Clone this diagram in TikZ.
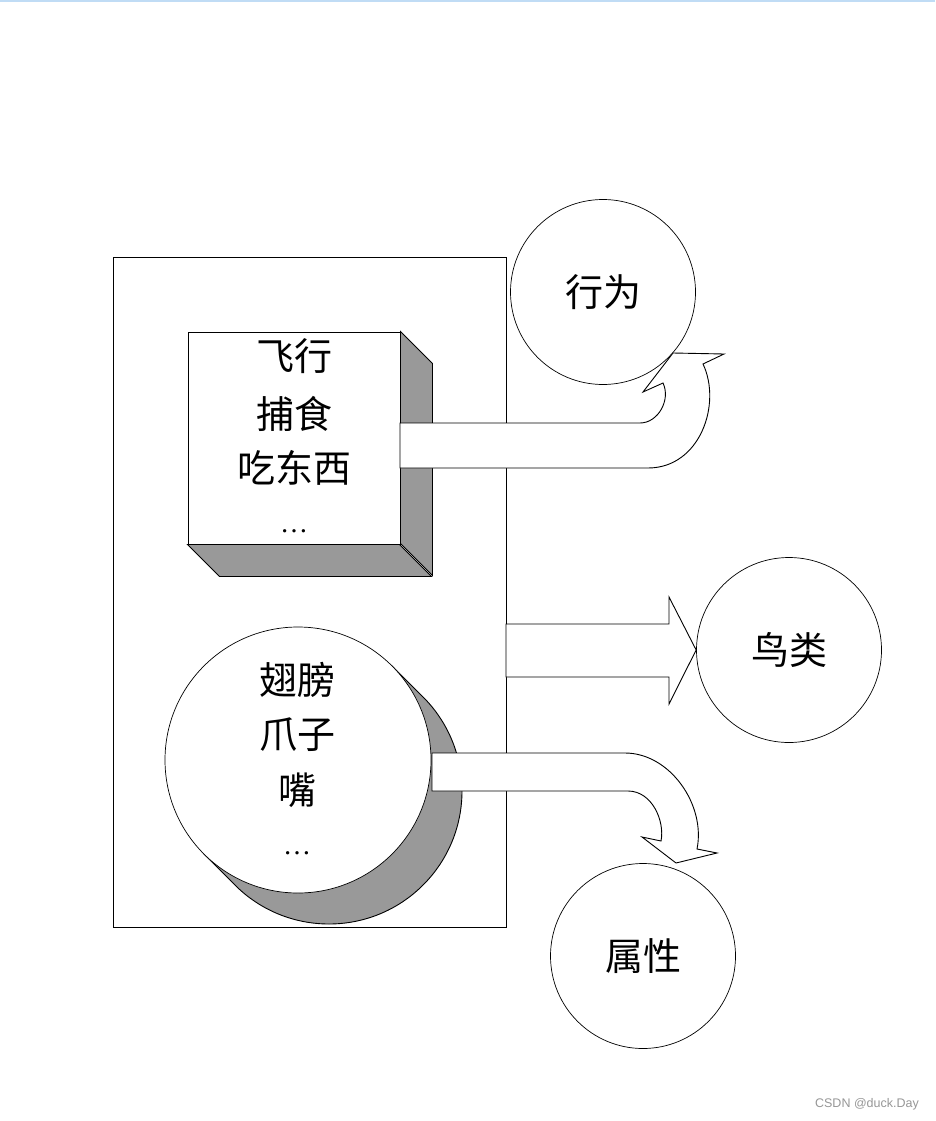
\documentclass[tikz,border=0pt]{standalone}
\usepackage{fontspec}
\newfontfamily\cjk{Noto Sans CJK SC}
\newfontfamily\latinserif{Liberation Serif}
\newfontfamily\wmfont{Liberation Sans}
\definecolor{shade}{RGB}{153,153,153}
\definecolor{topline}{RGB}{192,220,245}
\definecolor{wmgray}{RGB}{150,150,150}
\begin{document}
\begin{tikzpicture}[x=1pt,y=-1pt, line join=miter,
  outline/.style={draw=black, line width=0.9pt},
  face/.style={outline, fill=shade},
  blockarrow/.style={outline, fill=white},
  bubble/.style={circle, draw=black, line width=0.7pt, fill=white, minimum size=185pt, inner sep=0pt,
    font=\cjk\fontsize{38}{38}\selectfont},
  cjklabel/.style={font=\cjk\fontsize{38}{38}\selectfont, inner sep=0pt},
  dotslabel/.style={font=\latinserif\fontsize{28}{28}\selectfont, inner sep=0pt}]
\useasboundingbox (0,0) rectangle (935,1121);
\fill[topline] (0,0) rectangle (935,2);
% outer frame
\node[outline, minimum width=393pt, minimum height=670pt, inner sep=0pt] (outer) at (309.5,592) {};
% target circles
\node[bubble] (xingwei) at (603,292) {行为};
\node[bubble] (niaolei) at (789,650) {鸟类};
\node[bubble] (shuxing) at (643,956) {属性};
% cube
\node[outline, fill=white, minimum width=212pt, minimum height=212pt, inner sep=0pt] (cube) at (294,438) {};
\draw[face] (cube.north east) -- ++(32,32) -- ++(0,212) -- ++(-32,-32) -- cycle;
\draw[face] (cube.south west) -- ++(32,32) -- ++(212,0) -- ++(-32,-32) -- cycle;
\node[cjklabel] (b1) at (294,356) {飞行};
\node[cjklabel] (b2) at (294,414) {捕食};
\node[cjklabel] (b3) at (294,468) {吃东西};
\node[dotslabel] (b4) at (294,531) {…};
% cylinder
\coordinate (cylc) at (298,760);
\draw[face] (cylc) ++(-45:133) -- ++(31,31) arc[start angle=-45, end angle=135, radius=133] -- ++(-31,-31) -- cycle;
\node[circle, draw=black, line width=0.7pt, fill=white, minimum size=266pt, inner sep=0pt] (cyl) at (cylc) {};
\node[cjklabel] (c1) at (297,680) {翅膀};
\node[cjklabel] (c2) at (297,735) {爪子};
\node[cjklabel] (c3) at (297,790) {嘴};
\node[dotslabel] (c4) at (297,853) {…};
% block arrows
\draw[blockarrow] (400,423) -- (640,423) .. controls (658,423) and (671,400) .. (663,383) -- (643,392) -- (673,353) -- (724,354) -- (703,364) .. controls (722,404) and (700,468) .. (648,468) -- (400,468) -- cycle;
\draw[blockarrow] (506,624) -- (669,624) -- (669,597) -- (niaolei.west) -- (669,704) -- (669,677) -- (506,677) -- cycle;
\draw[blockarrow] (432,753) -- (625,753) .. controls (670,753) and (706,805) .. (697,849) -- (717,853) -- (676,863) -- (642,837) -- (661,841) .. controls (665,821) and (652,791) .. (628,791) -- (432,791) -- cycle;
% watermark
\node[font=\wmfont\fontsize{12.5}{12.5}\selectfont, text=wmgray, anchor=east, inner sep=0pt] (wm) at (919,1104) {CSDN @duck.Day};
\end{tikzpicture}
\end{document}
